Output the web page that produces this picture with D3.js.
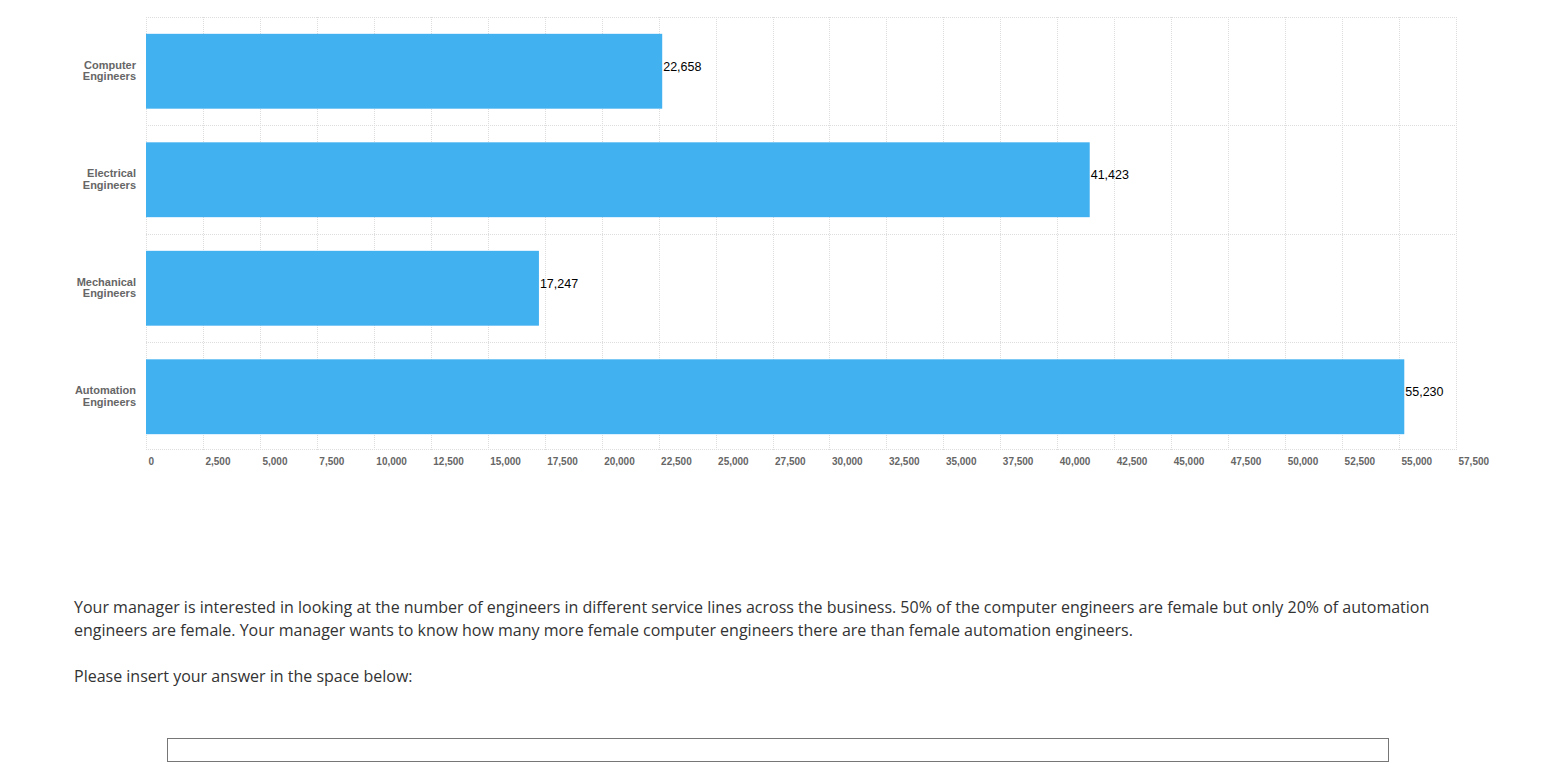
<!DOCTYPE html>
<html><head><meta charset="utf-8">
<script src="https://cdn.jsdelivr.net/npm/d3@7"></script>
<style>
body{margin:0;background:#fff;width:1556px;height:773px;overflow:hidden;position:relative;}
#chart{position:absolute;left:0;top:0;}
.q{position:absolute;left:74px;top:596px;width:1400px;font-family:"Open Sans",sans-serif;font-size:16px;line-height:23px;color:#333;margin:0;}
.q2{top:665px;}
.box{position:absolute;left:167px;top:738px;width:1220px;height:22px;border:1px solid #767676;box-sizing:content-box;}
</style></head><body>
<svg id="chart" width="1556" height="500"></svg>
<p class="q">Your manager is interested in looking at the number of engineers in different service lines across the business. 50% of the computer engineers are female but only 20% of automation engineers are female. Your manager wants to know how many more female computer engineers there are than female automation engineers.</p>
<p class="q q2">Please insert your answer in the space below:</p>
<div class="box"></div>
<script>
const categories = ["Computer Engineers","Electrical Engineers","Mechanical Engineers","Automation Engineers"];
const values = [22658, 41423, 17247, 55230];
const tickValues = d3.range(0, 57501, 2500);

const svg = d3.select("#chart");
const L = 146, R = 1456, T = 17, B = 451;
const x = d3.scaleLinear().domain([0, 57500]).range([L, R]);
const y = d3.scaleBand().domain(categories).range([T, B]).paddingInner(0.31).paddingOuter(0.155);

const grid = svg.append("g").attr("stroke", "#ddd").attr("stroke-dasharray", "1,1").attr("shape-rendering","crispEdges");
grid.selectAll("line.v").data(tickValues).join("line")
  .attr("x1", d => Math.round(x(d)) + 0.5).attr("x2", d => Math.round(x(d)) + 0.5)
  .attr("y1", T).attr("y2", B - 1);
const step = y.step();
const bounds = d3.range(categories.length + 1).map(i => Math.min(T + i * step, B - 1.5));
grid.selectAll("line.h").data(bounds).join("line")
  .attr("x1", L).attr("x2", R)
  .attr("y1", d => Math.floor(d) + 0.5).attr("y2", d => Math.floor(d) + 0.5);

svg.append("g").selectAll("rect").data(categories).join("rect")
  .attr("x", x(0)).attr("y", d => y(d))
  .attr("width", (d, i) => x(values[i]) - x(0))
  .attr("height", y.bandwidth())
  .attr("fill", "#42b1f0");

svg.append("g").selectAll("text").data(categories).join("text")
  .attr("x", (d, i) => x(values[i]) + 1)
  .attr("y", d => y(d) + y.bandwidth() / 2 - 5)
  .attr("dy", "0.35em")
  .attr("font-family", "Arial, 'Liberation Sans', sans-serif")
  .attr("font-size", 12.5).attr("fill", "#000")
  .text((d, i) => d3.format(",")(values[i]));

const xAxis = d3.axisBottom(x).tickValues(tickValues).tickSize(0).tickFormat(d3.format(","));
const xg = svg.append("g").attr("transform", `translate(0,${B})`).call(xAxis);
xg.select(".domain").remove();
xg.selectAll("text").attr("text-anchor", "start").attr("dx", 2).attr("dy", "1.05em")
  .attr("font-family", "Arial, 'Liberation Sans', sans-serif").attr("font-size", 10)
  .attr("font-weight", "bold").attr("fill", "#666");

const cats = svg.append("g").selectAll("text").data(categories).join("text")
  .attr("x", 136).attr("y", d => y(d) + y.bandwidth() / 2)
  .attr("text-anchor", "end")
  .attr("font-family", "Arial, 'Liberation Sans', sans-serif").attr("font-size", 11)
  .attr("font-weight", "bold").attr("fill", "#666");
cats.each(function(d) {
  const parts = d.split(" ");
  const t = d3.select(this);
  t.append("tspan").attr("x", 136).attr("dy", "-0.25em").text(parts[0]);
  t.append("tspan").attr("x", 136).attr("dy", "1.05em").text(parts.slice(1).join(" "));
});
</script>
</body></html>
